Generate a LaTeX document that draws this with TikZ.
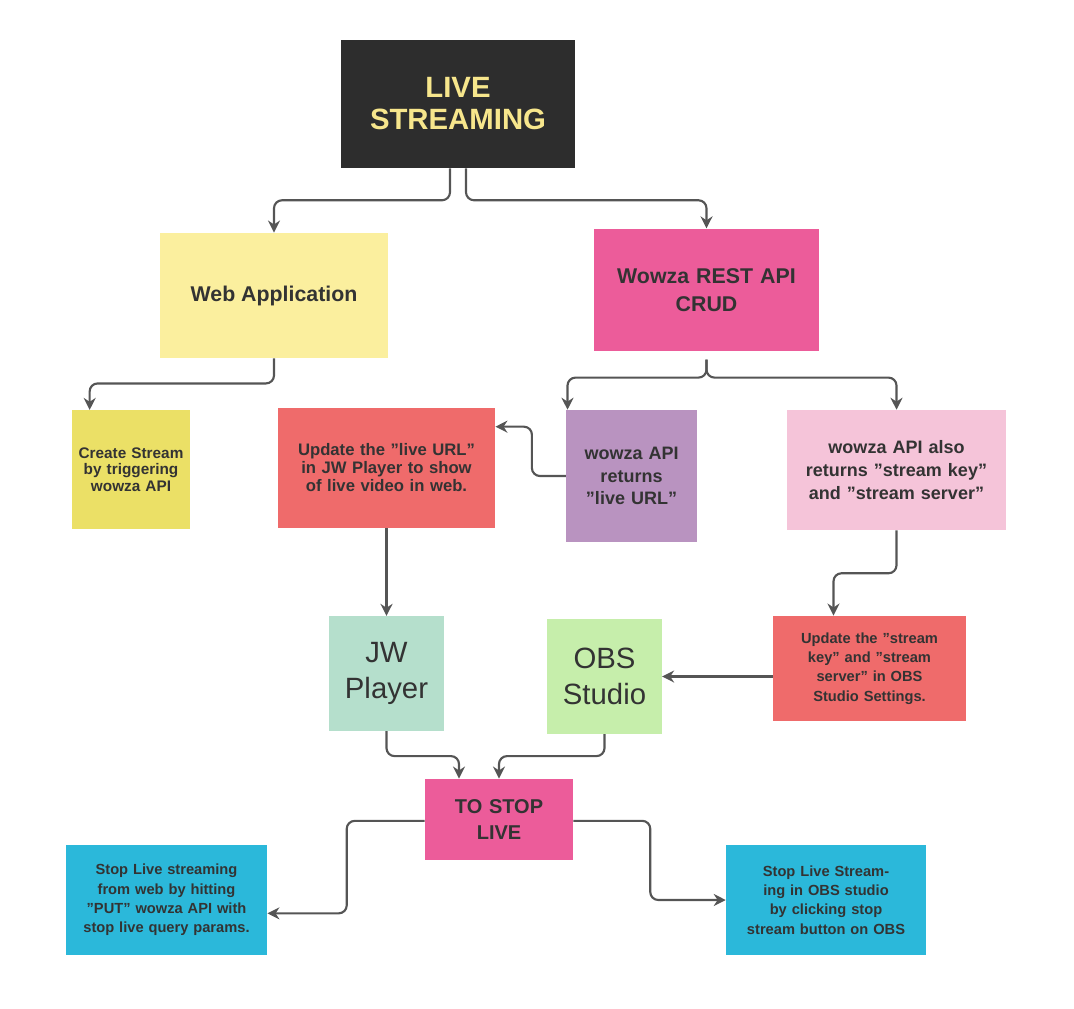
\documentclass[tikz,border=0pt]{standalone}
\usepackage{fontspec}
\setmainfont{Liberation Sans}
\usepackage{xcolor}
\usetikzlibrary{arrows.meta}

\definecolor{darkbox}{HTML}{2D2D2D}
\definecolor{titleyellow}{HTML}{F7E68C}
\definecolor{paleyellow}{HTML}{FBEF9E}
\definecolor{hotpink}{HTML}{EC5C9A}
\definecolor{mustard}{HTML}{EBE066}
\definecolor{salmon}{HTML}{EF6B6B}
\definecolor{lilac}{HTML}{B993C0}
\definecolor{blush}{HTML}{F5C4D9}
\definecolor{mint}{HTML}{B5DFCC}
\definecolor{lime}{HTML}{C6EEAB}
\definecolor{cyanbox}{HTML}{2BB8DA}
\definecolor{wire}{HTML}{555555}

\tikzset{
  note/.style={inner sep=2pt, align=center, text=black!80, font=\bfseries},
  conn/.style={draw=wire, line width=1.6pt, rounded corners=6, -{Stealth[length=9pt,width=9pt]}}
}

\begin{document}
\begin{tikzpicture}[x=0.75pt,y=0.75pt,yscale=-1,xscale=1]
\useasboundingbox (0,0) rectangle (1074,1009);

% boxes
\node[note, fill=darkbox, text=titleyellow, minimum width=175.5pt, minimum height=96pt, font=\bfseries\fontsize{22}{24}\selectfont, text width=160pt] (live) at (458,104) {LIVE\\STREAMING};
\node[note, fill=paleyellow, minimum width=171pt, minimum height=94pt, font=\bfseries\fontsize{16}{19}\selectfont] (web) at (274,295.5) {Web Application};
\node[note, fill=hotpink, minimum width=169pt, minimum height=92pt, text width=160pt, font=\bfseries\fontsize{16}{21}\selectfont] (wowza) at (706.5,290) {Wowza REST API\\CRUD};
\node[note, fill=mustard, minimum width=88.5pt, minimum height=89pt, text width=80pt, font=\bfseries\fontsize{11.5}{12.2}\selectfont] (create) at (131,469.5) {Create Stream by triggering wowza API};
\node[note, fill=salmon, minimum width=163pt, minimum height=90pt, text width=150pt, font=\bfseries\fontsize{12.5}{13.5}\selectfont] (upurl) at (386.5,468) {Update the "live URL" in JW Player to show of live video in web.};
\node[note, fill=lilac, minimum width=98pt, minimum height=99pt, text width=90pt, font=\bfseries\fontsize{13.5}{17}\selectfont] (returns) at (631.5,476) {wowza API returns "live URL"};
\node[note, fill=blush, minimum width=164pt, minimum height=90pt, text width=150pt, font=\bfseries\fontsize{13.5}{17}\selectfont] (also) at (896.5,470) {wowza API also returns "stream key" and "stream server"};
\node[note, fill=mint, minimum width=86pt, minimum height=86pt, text width=80pt, font=\fontsize{22}{27}\selectfont] (jw) at (386.5,673.5) {JW\\Player};
\node[note, fill=lime, minimum width=86pt, minimum height=86pt, text width=80pt, font=\fontsize{22}{27}\selectfont] (obs) at (604.5,676.5) {OBS\\Studio};
\node[note, fill=salmon, minimum width=145pt, minimum height=79pt, text width=125pt, font=\bfseries\fontsize{11}{14.5}\selectfont] (skey) at (869.5,668.5) {Update the "stream key" and "stream server" in OBS Studio Settings.};
\node[note, fill=hotpink, minimum width=111pt, minimum height=61pt, text width=100pt, font=\bfseries\fontsize{15}{20}\selectfont] (stop) at (499,819.5) {TO STOP\\LIVE};
\node[note, fill=cyanbox, minimum width=151pt, minimum height=82.5pt, text width=140pt, font=\bfseries\fontsize{11}{14.5}\selectfont] (stopweb) at (166.5,900) {Stop Live streaming from web by hitting "PUT" wowza API with stop live query params.};
\node[note, fill=cyanbox, minimum width=150pt, minimum height=82.5pt, text width=140pt, font=\bfseries\fontsize{11}{14.5}\selectfont] (stopobs) at (826,900) {Stop Live Streaming in OBS studio by clicking stop stream button on OBS};

% connectors
\draw[conn] ([xshift=-6]live.south) -- ++(0,32) -| (web.north);
\draw[conn] ([xshift=6]live.south) -- ++(0,32) -| (wowza.north);
\draw[conn] (web.south) -- ++(0,25) -| ([xshift=-31]create.north);
\draw[conn] ([yshift=6]wowza.south) -- ++(0,18) -| ([xshift=-48]returns.north);
\draw[conn] ([yshift=6]wowza.south) -- ++(0,18) -| (also.north);
\draw[conn] (returns.west) -- ++(-34,0) |- ([yshift=-31]upurl.east);
\draw[conn] (also.south) -- ++(0,43) -| ([xshift=-27]skey.north);
\draw[conn] (upurl.south) -- (jw.north);
\draw[conn] (skey.west |- obs.east) -- (obs.east);
\draw[conn] (jw.south) -- ++(0,25) -| ([xshift=-30]stop.north);
\draw[conn] (obs.south) -- ++(0,22) -| ([xshift=0]stop.north);
\draw[conn] ([yshift=1]stop.west) -- ++(-78,0) |- ([yshift=10]stopweb.east);
\draw[conn] ([yshift=1]stop.east) -- ++(77,0) |- (stopobs.west);
\end{tikzpicture}
\end{document}
